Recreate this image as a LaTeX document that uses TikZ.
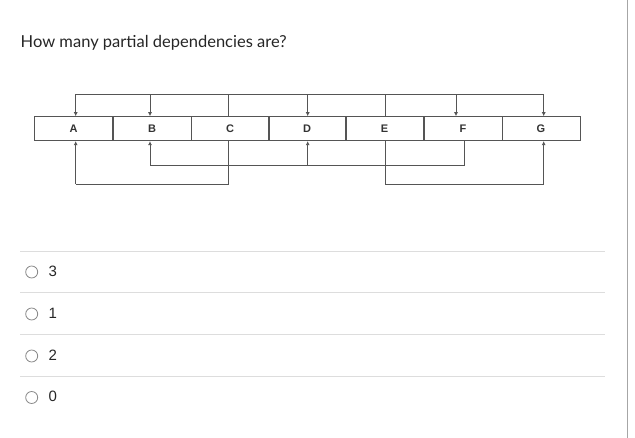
\documentclass[tikz,border=0pt]{standalone}
\usepackage{fontspec}
\setmainfont{Lato}
\newfontfamily\optfont{Liberation Sans}
\usetikzlibrary{arrows.meta,calc}
\definecolor{lncol}{HTML}{555555}
\definecolor{sepcol}{HTML}{DDDDDD}
\definecolor{radcol}{HTML}{8A8A8A}
\tikzset{
  cellbox/.style={draw=lncol,line width=0.9pt,minimum width=78pt,minimum height=24pt,inner sep=0pt,
    font=\optfont\bfseries\fontsize{11}{13}\selectfont,text=black!80},
  ln/.style={draw=lncol,line width=0.9pt},
  arr/.style={ln,-{Latex[length=4pt,width=4pt]}},
  sepline/.style={draw=sepcol,line width=0.8pt},
  radio/.style={draw=radcol,line width=0.8pt,circle,minimum size=12pt,inner sep=0pt},
  opt/.style={anchor=base west,inner sep=0pt,font=\optfont\fontsize{15}{18}\selectfont,text=black!85},
}
\begin{document}
\begin{tikzpicture}[x=1pt,y=-1pt]
\useasboundingbox (0,0) rectangle (635,438);
\draw[draw=black!35,line width=1pt] (627.3,0) -- (627.3,438);
\node[anchor=base west,inner sep=0pt,font=\fontsize{16.5}{20}\selectfont,text=black!85] (title) at (20.5,47.3) {How many partial dependencies are?};
% cells
\node[cellbox] (A) at (73.5,128.7) {A};
\node[cellbox] (B) at (152,128.7) {B};
\node[cellbox] (C) at (230,128.7) {C};
\node[cellbox] (D) at (307,128.7) {D};
\node[cellbox] (E) at (384.5,128.7) {E};
\node[cellbox] (F) at (463,128.7) {F};
\node[cellbox] (G) at (541,128.7) {G};
% top dependency lines: C,E -> A,B,D,F,G
\coordinate (tA) at (75.7,94.3);
\coordinate (tB) at (150,94.3);
\coordinate (tC) at (228.7,94.3);
\coordinate (tD) at (307.7,94.3);
\coordinate (tE) at (385.3,94.3);
\coordinate (tF) at (456,94.3);
\coordinate (tG) at (543.7,94.3);
\draw[ln] (tA) -- (tG);
\draw[ln] (tC) -- (tC |- C.north);
\draw[ln] (tE) -- (tE |- E.north);
\draw[arr] (tA) -- (tA |- A.north);
\draw[arr] (tB) -- (tB |- B.north);
\draw[arr] (tD) -- (tD |- D.north);
\draw[arr] (tF) -- (tF |- F.north);
\draw[arr] (tG) -- (tG |- G.north);
% bottom line 1: F -> B, D
\coordinate (bB) at (150,165.3);
\coordinate (bD) at (307.7,165.3);
\coordinate (bF) at (464.3,165.3);
\draw[ln] (bF |- F.south) -- (bF) -- (bB);
\draw[arr] (bB) -- (bB |- B.south);
\draw[arr] (bD) -- (bD |- D.south);
% bottom line 2: C -> A
\coordinate (cA) at (75.7,184.3);
\coordinate (cC) at (228.7,184.3);
\draw[ln] (cC |- C.south) -- (cC) -- (cA);
\draw[arr] (cA) -- (cA |- A.south);
% bottom line 3: E -> G
\coordinate (eE) at (385.3,184.3);
\coordinate (eG) at (543.7,184.3);
\draw[ln] (eE |- E.south) -- (eE) -- (eG);
\draw[arr] (eG) -- (eG |- G.south);
% answer options
\draw[sepline] (20,251) -- (605,251);
\draw[sepline] (20,292.5) -- (605,292.5);
\draw[sepline] (20,334.3) -- (605,334.3);
\draw[sepline] (20,376) -- (605,376);
\node[radio] (r1) at (31.7,272) {};
\node[radio] (r2) at (31.7,314) {};
\node[radio] (r3) at (31.7,356) {};
\node[radio] (r4) at (31.7,397.5) {};
\node[opt] (o1) at (48.3,276.5) {3};
\node[opt] (o2) at (48.3,318.5) {1};
\node[opt] (o3) at (48.3,360.3) {2};
\node[opt] (o4) at (48.3,402) {0};
\end{tikzpicture}
\end{document}
